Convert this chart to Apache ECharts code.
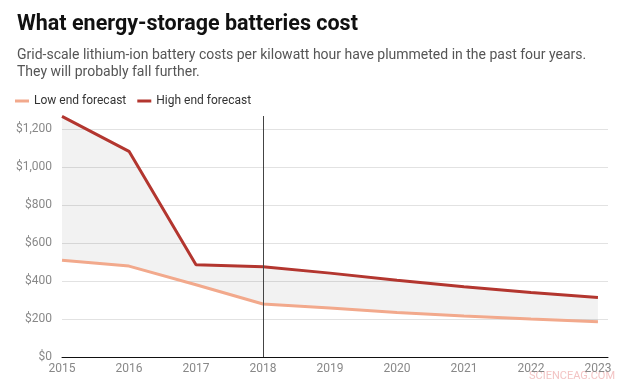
<!DOCTYPE html>
<html>
<head>
<meta charset="utf-8">
<script src="https://cdn.jsdelivr.net/npm/echarts@6/dist/echarts.min.js"></script>
<style>html,body{margin:0;padding:0;background:#fff}#c{width:629px;height:384px}</style>
</head>
<body>
<div id="c"></div>
<script>
const years = [2015, 2016, 2017, 2018, 2019, 2020, 2021, 2022, 2023];
const lowEnd = [510, 479, 381, 279, 258, 234, 216, 200, 186];
const highEnd = [1268, 1084, 486, 476, 442, 405, 370, 340, 313];
const yTicks = [0, 200, 400, 600, 800, 1000, 1200];
const forecastStart = 2018;

const chart = echarts.init(document.getElementById('c'), null, {renderer: 'canvas'});
// value first, year second so the stack is applied to the value dimension
const pair = (arr) => years.map((y, i) => [arr[i], y]);
const band = years.map((y, i) => [highEnd[i] - lowEnd[i], y]);
const enc = {x: 1, y: 0};
const font = 'Roboto, "Noto Sans", sans-serif';

chart.setOption({
  animation: false,
  textStyle: {fontFamily: font},
  title: {
    left: 12, top: 9,
    text: 'What energy-storage batteries cost',
    textStyle: {fontFamily: font, fontSize: 21.5, fontWeight: 'bold', color: '#111'},
    subtext: 'Grid-scale lithium-ion battery costs per kilowatt hour have plummeted in the past four years.\nThey will probably fall further.',
    subtextStyle: {fontFamily: font, fontSize: 14, color: '#555', lineHeight: 17},
    itemGap: 11
  },
  legend: {
    left: 10, top: 90,
    icon: 'rect', itemWidth: 14, itemHeight: 3, itemGap: 11,
    textStyle: {fontFamily: font, fontSize: 12, color: '#333'},
    data: ['Low end forecast', 'High end forecast']
  },
  grid: {left: 62, right: 21, top: 116, bottom: 27, containLabel: false},
  xAxis: {
    type: 'value', min: 2015, max: 2023.15, interval: 1,
    axisLine: {show: true, lineStyle: {color: '#111', width: 1}},
    axisTick: {show: false},
    splitLine: {show: false},
    axisLabel: {
      color: '#888', fontSize: 12, fontFamily: font, margin: 6,
      showMaxLabel: false,
      formatter: v => (years.includes(v) ? String(v) : '')
    }
  },
  yAxis: {
    type: 'value', min: 0, max: 1270, interval: 200,
    axisLine: {show: false}, axisTick: {show: false},
    splitLine: {show: true, showMaxLine: false, lineStyle: {color: '#e2e2e2', width: 1}},
    axisLabel: {
      color: '#888', fontSize: 12, fontFamily: font, margin: 10,
      showMaxLabel: false,
      formatter: v => (yTicks.includes(v) ? '$' + v.toLocaleString('en-US') : '')
    }
  },
  series: [
    {
      name: 'base', type: 'line', stack: 'band', data: pair(lowEnd), encode: enc,
      symbol: 'none', lineStyle: {opacity: 0}, silent: true, z: 1
    },
    {
      name: 'bandFill', type: 'line', stack: 'band', data: band, encode: enc,
      symbol: 'none', lineStyle: {opacity: 0}, areaStyle: {color: 'rgba(0,0,0,0.05)', opacity: 1}, silent: true, z: 1,
      markLine: {
        silent: true, symbol: 'none', label: {show: false},
        lineStyle: {color: '#444', width: 1, type: 'solid'},
        data: [{xAxis: forecastStart}]
      }
    },
    {
      name: 'Low end forecast', type: 'line', data: pair(lowEnd), encode: enc,
      symbol: 'none', color: '#f2a98c', lineStyle: {color: '#f2a98c', width: 3}, z: 3
    },
    {
      name: 'High end forecast', type: 'line', data: pair(highEnd), encode: enc,
      symbol: 'none', color: '#b3362f', lineStyle: {color: '#b3362f', width: 3}, z: 4
    }
  ],
  graphic: [{
    type: 'text', right: 14, bottom: 2,
    style: {text: 'SCIENCEAG.COM', fill: '#f3c4c4', font: '11px ' + font}
  }]
});
</script>
</body>
</html>
